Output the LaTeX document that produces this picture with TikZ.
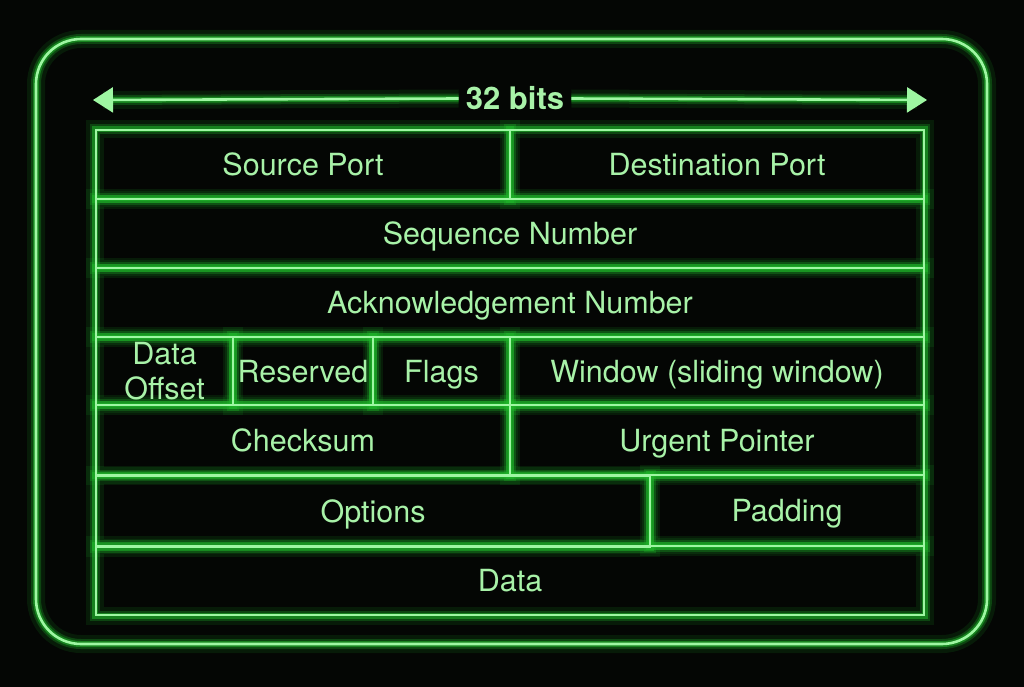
\documentclass[tikz,border=0pt]{standalone}
\usepackage{fontspec}
\setmainfont{TeX Gyre Heros}
\usetikzlibrary{arrows.meta,backgrounds}
\pgfdeclarelayer{deepback}
\pgfdeclarelayer{background}
\pgfsetlayers{deepback,background,main}
\definecolor{bg}{HTML}{040604}
\definecolor{core}{HTML}{9EF7A2}
\definecolor{halo}{HTML}{1FB52A}
\definecolor{txt}{HTML}{A8F2A8}
\tikzset{
  haloA/.style={draw=halo,line width=18pt,opacity=0.12},
  haloB/.style={draw=halo,line width=10pt,opacity=0.28},
  haloC/.style={draw=halo,line width=6pt,opacity=0.55},
  corestroke/.style={draw=core,line width=2.6pt},
  cellbase/.style={corestroke,rectangle,inner sep=0pt,text=txt,
    font=\fontsize{30.5}{35}\selectfont,align=center},
  cellbox/.style={cellbase,text height=22pt,text depth=0pt},
  framebox/.style={preaction={haloA},preaction={haloB},preaction={haloC},
    corestroke,rectangle,rounded corners=45pt,inner sep=0pt},
  bitslabel/.style={text=txt,font=\bfseries\fontsize{31}{36}\selectfont,inner xsep=7pt,
    text height=22.5pt,text depth=0pt},
  widtharrow/.style={corestroke,-{Triangle[length=20pt,width=25pt]}},
}
\begin{document}
\begin{tikzpicture}[x=1pt,y=-1pt]
\useasboundingbox (0,0) rectangle (1024,687);
\begin{pgfonlayer}{deepback}
\fill[bg] (0,0) rectangle (1024,687);
\end{pgfonlayer}

% outer frame
\node[framebox,minimum width=951pt,minimum height=605pt] (frame) at (511.5,341.5) {};

% width arrow
\coordinate (al) at (93,100);
\coordinate (ar) at (927,100);
\node[bitslabel] (bits) at (515,98.5) {32 bits};
\foreach \h in {haloA,haloB,haloC}{
  \draw[\h] (bits.west) -- ([xshift=10pt]al);
  \draw[\h] (bits.east) -- ([xshift=-10pt]ar);
}
\draw[widtharrow] (bits.west) -- (al);
\draw[widtharrow] (bits.east) -- (ar);

% cells
\node[cellbox,minimum width=414pt,minimum height=69pt] (src) at (303,164.5) {Source Port};
\node[cellbox,minimum width=414pt,minimum height=69pt] (dst) at (717,164.5) {Destination Port};
\node[cellbox,minimum width=828pt,minimum height=69pt] (seq) at (510,233.5) {Sequence Number};
\node[cellbox,minimum width=828pt,minimum height=69pt] (ack) at (510,302.5) {Acknowledgement Number};
\node[cellbase,minimum width=137pt,minimum height=68pt] (doff) at (164.5,371) {Data\\Offset};
\node[cellbox,minimum width=140pt,minimum height=68pt] (res) at (303,371) {Reserved};
\node[cellbox,minimum width=137pt,minimum height=68pt] (flg) at (441.5,371) {Flags};
\node[cellbox,minimum width=414pt,minimum height=68pt] (win) at (717,371) {Window (sliding window)};
\node[cellbox,minimum width=414pt,minimum height=70pt] (chk) at (303,440) {Checksum};
\node[cellbox,minimum width=414pt,minimum height=70pt] (urg) at (717,440) {Urgent Pointer};
\node[cellbox,minimum width=554pt,minimum height=71pt] (opt) at (373,511.5) {Options};
\node[cellbox,minimum width=274pt,minimum height=71pt] (pad) at (787,510.5) {Padding};
\node[cellbox,minimum width=828pt,minimum height=69pt] (dat) at (510,580.5) {Data};

\begin{pgfonlayer}{background}
\foreach \h in {haloA,haloB,haloC}{
  \foreach \n in {src,dst,seq,ack,doff,res,flg,win,chk,urg,opt,pad,dat}{
    \draw[\h] (\n.north west) rectangle (\n.south east);
  }
}
\end{pgfonlayer}
\end{tikzpicture}
\end{document}
